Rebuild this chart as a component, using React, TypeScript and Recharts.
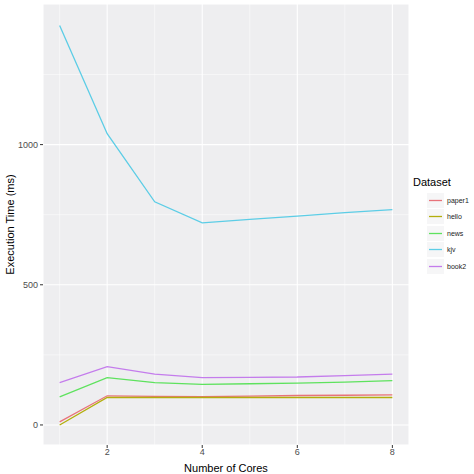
import {
  LineChart,
  Line,
  XAxis,
  YAxis,
  CartesianGrid,
  ReferenceLine,
} from 'recharts';

// Number of cores on the x axis
const cores = [1, 2, 3, 4, 5, 6, 7, 8];

// Execution time (ms) per dataset
const paper1 = [11, 104, 102, 101, 103, 105, 106, 107];
const hello = [0, 98, 98, 98, 98, 98, 98, 98];
const news = [100, 169, 151, 145, 147, 149, 153, 158];
const kjv = [1425, 1039, 796, 721, 733, 745, 757, 768];
const book2 = [151, 208, 181, 169, 170, 171, 176, 181];

const seriesNames = ['paper1', 'hello', 'news', 'kjv', 'book2'];
const seriesColors = ['#E8737A', '#B3AE0C', '#5EE25E', '#5CCDE6', '#C47CEC'];

const xTicks = [2, 4, 6, 8];
const yTicks = [0, 500, 1000];
const xMinor = [1, 3, 5, 7];
const yMinor = [250, 750, 1250];

const data = cores.map((c, i) => ({
  cores: c,
  paper1: paper1[i],
  hello: hello[i],
  news: news[i],
  kjv: kjv[i],
  book2: book2[i],
}));

const FONT = 'Liberation Sans, Arial, sans-serif';

/** Légende façon ggplot, placée à droite du panneau. */
function DatasetLegend() {
  return (
    <div
      style={{
        position: 'absolute',
        left: 413,
        top: 176,
        fontFamily: FONT,
        color: '#000',
      }}
    >
      <div style={{ fontSize: 11, marginBottom: 4 }}>Dataset</div>
      {seriesNames.map((name, i) => (
        <div
          key={name}
          style={{ display: 'flex', alignItems: 'center', height: 16.5 }}
        >
          <svg width={17} height={15} style={{ marginLeft: 14, display: 'block' }}>
            <rect x={0} y={0} width={17} height={15} fill="#F6F6F7" />
            <line x1={2} x2={15} y1={7.5} y2={7.5} stroke={seriesColors[i]} strokeWidth={1.3} />
          </svg>
          <span style={{ fontSize: 7, marginLeft: 3, color: '#222' }}>{name}</span>
        </div>
      ))}
    </div>
  );
}

export default function App() {
  return (
    <div
      style={{
        position: 'absolute',
        left: 0,
        top: 0,
        width: 474,
        height: 474,
        background: '#fff',
      }}
    >
      <LineChart
        width={474}
        height={474}
        data={data}
        margin={{ top: 4, right: 65, bottom: 0, left: 0 }}
      >
        <CartesianGrid fill="#EEEEF0" stroke="#fff" strokeWidth={1.1} />
        {xMinor.map((x) => (
          <ReferenceLine key={`vx${x}`} x={x} stroke="#fff" strokeWidth={0.5} />
        ))}
        {yMinor.map((y) => (
          <ReferenceLine key={`hy${y}`} y={y} stroke="#fff" strokeWidth={0.5} />
        ))}
        <XAxis
          dataKey="cores"
          type="number"
          domain={[0.65, 8.35]}
          ticks={xTicks}
          allowDataOverflow
          axisLine={false}
          tickLine={{ stroke: '#333' }}
          tickSize={3}
          tickMargin={1}
          height={29}
          tick={{ fontSize: 9, fill: '#4D4D4D', fontFamily: FONT }}
          label={{
            value: 'Number of Cores',
            position: 'insideBottom',
            offset: 2,
            style: { fontSize: 11, fill: '#000', fontFamily: FONT },
          }}
        />
        <YAxis
          type="number"
          domain={[-71.5, 1501.5]}
          ticks={yTicks}
          allowDataOverflow
          axisLine={false}
          tickLine={{ stroke: '#333' }}
          tickSize={3}
          tickMargin={2}
          width={43}
          tick={{ fontSize: 9, fill: '#4D4D4D', fontFamily: FONT }}
          label={{
            value: 'Execution Time (ms)',
            angle: -90,
            position: 'insideLeft',
            offset: 10,
            style: { fontSize: 11, fill: '#000', fontFamily: FONT, textAnchor: 'middle' },
          }}
        />
        {seriesNames.map((name, i) => (
          <Line
            key={name}
            dataKey={name}
            stroke={seriesColors[i]}
            strokeWidth={1.3}
            dot={false}
            type="linear"
            isAnimationActive={false}
          />
        ))}
      </LineChart>
      <DatasetLegend />
    </div>
  );
}
